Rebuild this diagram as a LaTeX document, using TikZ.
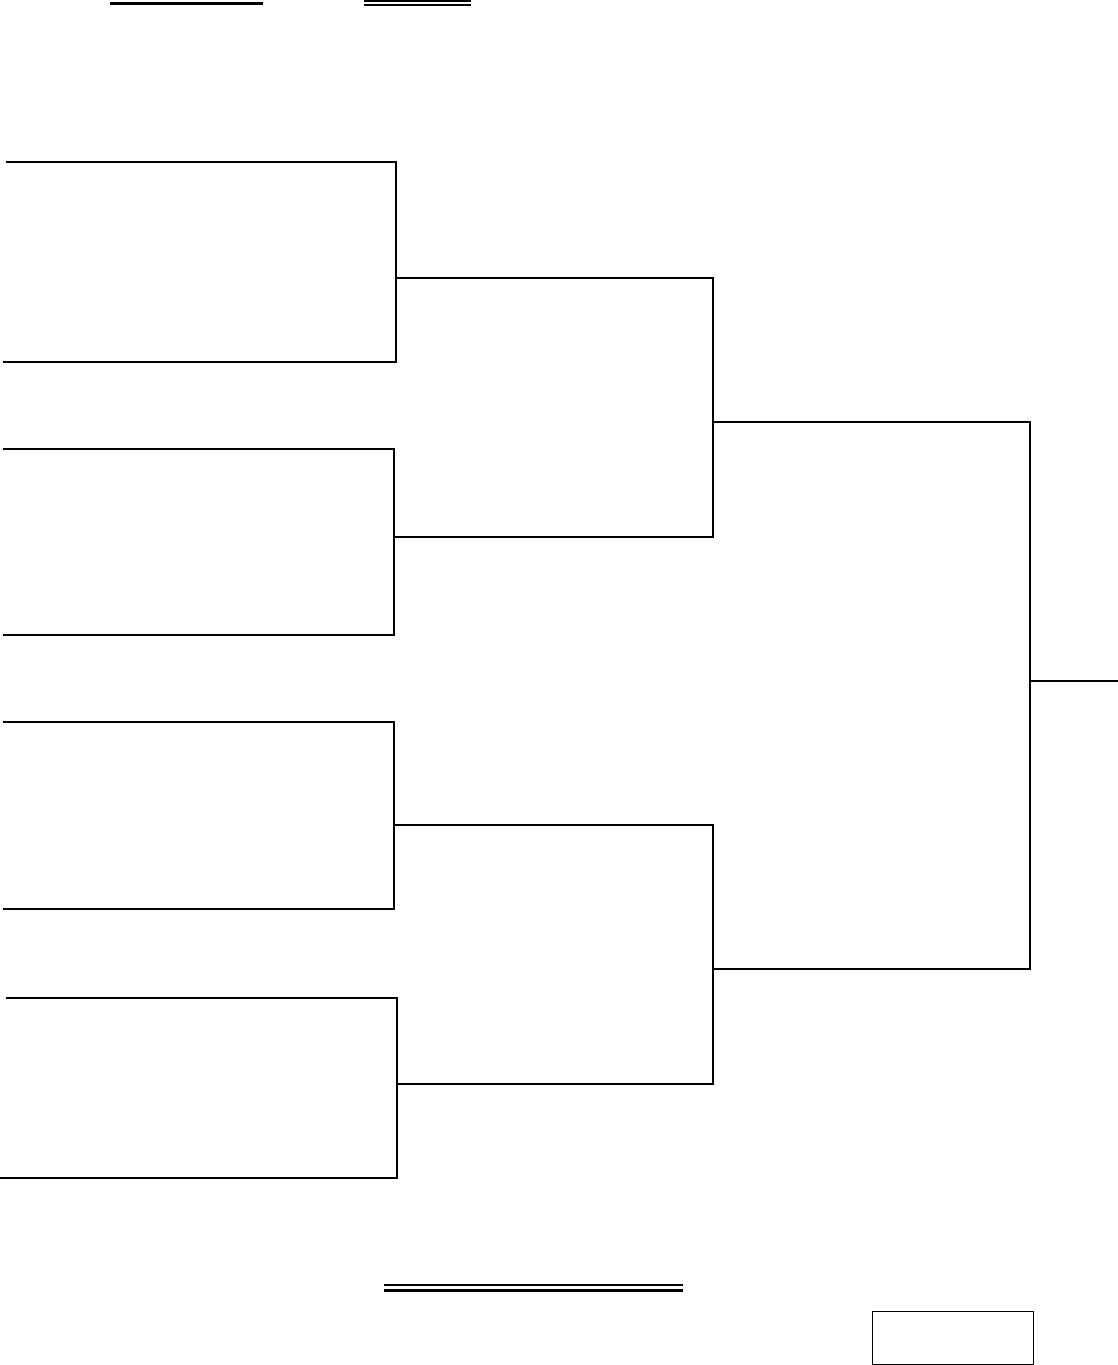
\documentclass[tikz,border=0pt]{standalone}
\begin{document}
\begin{tikzpicture}[x=1pt,y=-1pt,
  bline/.style={line width=1.7pt,line cap=rect},
  rule/.style={line width=#1}]
\useasboundingbox (0,0) rectangle (1117,1365);
% bracket 1
\coordinate (a1) at (7,162);   \coordinate (a1r) at (396,162);
\coordinate (b1) at (4,362);   \coordinate (b1r) at (396,362);
\coordinate (m1) at (396,278);
% bracket 2
\coordinate (a2) at (4,449);   \coordinate (a2r) at (394,449);
\coordinate (b2) at (4,635);   \coordinate (b2r) at (394,635);
\coordinate (m2) at (394,537);
% bracket 3
\coordinate (a3) at (4,722);   \coordinate (a3r) at (394,722);
\coordinate (b3) at (4,909);   \coordinate (b3r) at (394,909);
\coordinate (m3) at (394,825);
% bracket 4
\coordinate (a4) at (7,998);   \coordinate (a4r) at (397,998);
\coordinate (b4) at (1,1178);  \coordinate (b4r) at (397,1178);
\coordinate (m4) at (397,1084);
% second round
\coordinate (s1) at (713,278); \coordinate (s2) at (713,537);
\coordinate (s3) at (713,825); \coordinate (s4) at (713,1084);
\coordinate (sm1) at (713,422); \coordinate (sm2) at (713,969);
% final
\coordinate (f1) at (1030,422); \coordinate (f2) at (1030,969);
\coordinate (fm) at (1030,681); \coordinate (win) at (1117,681);

\foreach \i in {1,2,3,4}{
  \draw[bline] (a\i) -- (a\i r) -- (b\i r) -- (b\i);
}
\draw[bline] (m1) -- (s1) -- (s2) -- (m2);
\draw[bline] (m3) -- (s3) -- (s4) -- (m4);
\draw[bline] (sm1) -- (f1) -- (f2) -- (sm2);
\draw[bline] (fm) -- (win);

% top rules
\coordinate (t1l) at (110,3.5); \coordinate (t1r) at (263,3.5);
\draw[rule=3pt] (t1l) -- (t1r);
\coordinate (t2l) at (364,1); \coordinate (t2r) at (471,1);
\coordinate (t3l) at (364,4.5); \coordinate (t3r) at (471,4.5);
\draw[rule=1.6pt] (t2l) -- (t2r);
\draw[rule=2pt] (t3l) -- (t3r);
% bottom double rule
\coordinate (u1l) at (384,1285); \coordinate (u1r) at (683,1285);
\coordinate (u2l) at (384,1290.5); \coordinate (u2r) at (683,1290.5);
\draw[rule=2pt] (u1l) -- (u1r);
\draw[rule=3pt] (u2l) -- (u2r);
% small box
\node[draw,line width=1.6pt,minimum width=161pt,minimum height=53pt,inner sep=0pt,anchor=north west] (box) at (871.5,1310.5) {};
\end{tikzpicture}
\end{document}
